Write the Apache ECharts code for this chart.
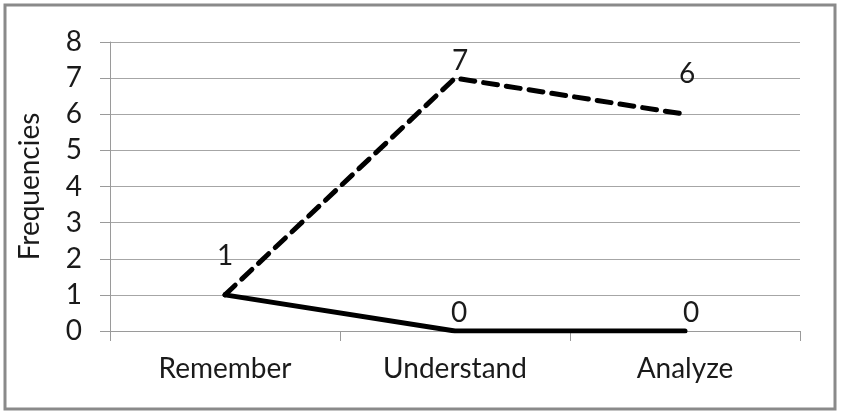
<!DOCTYPE html>
<html><head><meta charset="utf-8">
<script src="https://cdn.jsdelivr.net/npm/echarts@6/dist/echarts.min.js"></script>
<style>html,body{margin:0;padding:0;background:#fff}#c{width:842px;height:415px}</style>
</head><body><div id="c"></div>
<script>
var categories = ["Remember", "Understand", "Analyze"];
var dashedValues = [1, 7, 6];
var solidValues = [1, 0, 0];
var yTicks = [0, 1, 2, 3, 4, 5, 6, 7, 8];
var yName = "Frequencies";

var FONT = "Lato, 'Open Sans', sans-serif";
var FS = 28;
var dashedOffsets = [[0, -24], [5, -2], [2, -25]];
var solidOffsets = [[0, 0], [4, -3], [6, -3]];
var solidShow = [false, true, true];

var chart = echarts.init(document.getElementById('c'), null, {renderer: 'canvas'});
chart.setOption({
  animation: false,
  backgroundColor: '#fff',
  graphic: [{type: 'rect', shape: {x: 5, y: 5, width: 830, height: 404}, style: {fill: 'none', stroke: '#8a8a8a', lineWidth: 3}, silent: true}],
  grid: {left: 110, right: 42, top: 42, bottom: 84},
  xAxis: {
    type: 'category', data: categories, boundaryGap: true,
    axisLine: {lineStyle: {color: '#9a9a9a', width: 1}},
    axisTick: {show: true, length: 10, lineStyle: {color: '#9a9a9a'}},
    axisLabel: {color: '#1a1a1a', fontSize: FS, fontFamily: FONT, margin: 24}
  },
  yAxis: {
    type: 'value', min: yTicks[0], max: yTicks[yTicks.length - 1], interval: 1,
    name: yName, nameLocation: 'middle', nameGap: 66,
    nameTextStyle: {color: '#1a1a1a', fontSize: FS, fontFamily: FONT},
    axisLine: {show: true, lineStyle: {color: '#9a9a9a', width: 1}},
    axisTick: {show: true, length: 10, lineStyle: {color: '#9a9a9a'}},
    axisLabel: {color: '#1a1a1a', fontSize: FS, fontFamily: FONT, margin: 28},
    splitLine: {lineStyle: {color: '#a6a6a6', width: 1}}
  },
  series: [
    {
      type: 'line', data: dashedValues.map(function (v, i) {
        return {value: v, label: {offset: dashedOffsets[i]}};
      }),
      symbol: 'circle', symbolSize: 2, showSymbol: true,
      itemStyle: {color: 'rgba(0,0,0,0)', borderWidth: 0},
      lineStyle: {color: '#000', width: 5, type: [14, 9], cap: 'round', join: 'round'},
      label: {show: true, position: 'top', color: '#1a1a1a', fontSize: FS, fontFamily: FONT, distance: 0},
      z: 3
    },
    {
      type: 'line', data: solidValues.map(function (v, i) {
        return {value: v, label: {show: solidShow[i], offset: solidOffsets[i]}};
      }),
      symbol: 'circle', symbolSize: 2, showSymbol: true,
      itemStyle: {color: 'rgba(0,0,0,0)', borderWidth: 0},
      lineStyle: {color: '#000', width: 5, type: 'solid', cap: 'round', join: 'round'},
      label: {show: true, position: 'top', color: '#1a1a1a', fontSize: FS, fontFamily: FONT, distance: 0},
      z: 3
    }
  ]
});
</script></body></html>
